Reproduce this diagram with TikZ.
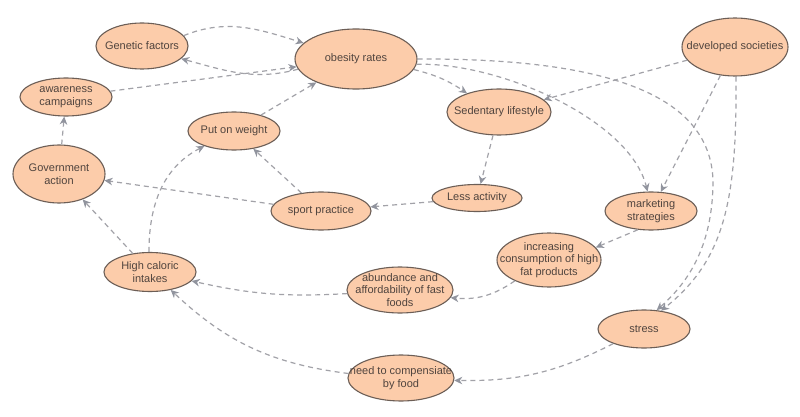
\documentclass[tikz,border=0pt]{standalone}
\usepackage{fontspec}
\setmainfont{Liberation Sans}
\usetikzlibrary{shapes.geometric,arrows.meta}
\definecolor{nodefill}{RGB}{252,204,170}
\definecolor{nodeline}{RGB}{108,94,86}
\definecolor{nodetext}{RGB}{80,68,62}
\definecolor{edgecol}{RGB}{162,162,168}
\definecolor{tipcol}{RGB}{145,148,158}
\begin{document}
\begin{tikzpicture}[x=1pt,y=1pt,
  concept/.style={ellipse, draw=nodeline, fill=nodefill, line width=1.1pt,
    text=nodetext, font=\fontsize{11}{12.5}\selectfont, align=center,
    inner xsep=-30pt, inner ysep=-20pt},
  sz/.style 2 args={minimum width=#1pt, minimum height=#2pt},
  link/.style={draw=edgecol, line width=1.2pt, dash pattern=on 5pt off 4pt,
    -{Stealth[length=8pt,width=7.5pt,inset=2.5pt,color=tipcol]}}
]
\fill[white] (0,0) rectangle (800,-417);
\useasboundingbox (0,0) rectangle (800,-417);

\node[concept, sz={92}{46}]  (gen) at (142,-46)  {Genetic factors};
\node[concept, sz={122}{60}] (obe) at (356,-59)  {obesity rates};
\node[concept, sz={92}{38}]  (awa) at (66,-97)   {awareness\\campaigns};
\node[concept, sz={92}{38}]  (put) at (234,-131) {Put on weight};
\node[concept, sz={92}{58}]  (gov) at (59,-174)  {Government\\action};
\node[concept, sz={100}{38}] (spo) at (321,-211) {sport practice};
\node[concept, sz={92}{39}]  (hig) at (150,-272) {High caloric\\intakes};
\node[concept, sz={106}{46}] (abu) at (400,-290) {abundance and\\affordability of fast\\foods};
\node[concept, sz={106}{46}] (nee) at (401,-378) {need to compensiate\\by food};
\node[concept, sz={90}{27}]  (les) at (477,-198) {Less activity};
\node[concept, sz={104}{46}] (sed) at (499,-112) {Sedentary lifestyle};
\node[concept, sz={106}{58}] (dev) at (735,-47)  {developed societies};
\node[concept, sz={92}{38}]  (mar) at (651,-211) {marketing\\strategies};
\node[concept, sz={104}{54}] (inc) at (549,-260) {increasing\\consumption of high\\fat products};
\node[concept, sz={92}{38}]  (str) at (644,-329) {stress};

\draw[link] (gen.14) to[out=22,in=163] (obe.163);
\draw[link] (obe.190) to[out=195,in=-15] (gen.-18);
\draw[link] (awa) -- (obe);
\draw[link] (put) -- (obe);
\draw[link] (gov) -- (awa);
\draw[link] (spo) -- (gov);
\draw[link] (spo) -- (put);
\draw[link] (les) -- (spo);
\draw[link] (sed) -- (les);
\draw[link] (obe) to[bend left=10] (sed);
\draw[link] (dev) -- (sed);
\draw[link] (obe.-5) .. controls (500,-62) and (630,-120) .. (mar.100);
\draw[link] (dev) -- (mar);
\draw[link] (obe.0) .. controls (620,-58) and (710,-100) .. (713,-180)
  .. controls (713,-250) and (685,-285) .. (str.56);
\draw[link] (dev.-88) .. controls (737,-200) and (725,-260) .. (str.47);
\draw[link] (mar.235) -- (inc.15);
\draw[link] (inc) to[bend left=20] (abu);
\draw[link] (abu) to[bend left=8] (hig);
\draw[link] (hig) -- (gov);
\draw[link] (hig.93) to[out=90,in=207] (put.207);
\draw[link] (nee) to[bend left=18] (hig);
\draw[link] (str) to[bend left=14] (nee);
\end{tikzpicture}
\end{document}
